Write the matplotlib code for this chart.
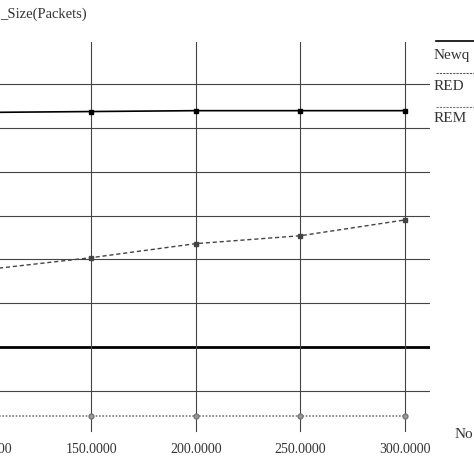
import matplotlib.pyplot as plt

x = [100, 150, 200, 250, 300]
newq = [73.5, 73.7, 73.9, 73.9, 73.9]
red = [37.7, 40.4, 43.6, 45.4, 49.0]
rem = [4.3, 4.3, 4.3, 4.3, 4.3]
grid_y = [10, 30, 40, 50, 60, 70, 80]
xticks = [100, 150, 200, 250, 300]
xtick_labels = ["100.0000", "150.0000", "200.0000", "250.0000", "300.0000"]

plt.rcParams["font.family"] = ["Liberation Serif", "DejaVu Serif"]

fig = plt.figure(figsize=(4.74, 4.74), dpi=100)
ax = fig.add_axes([-13.5 / 474, 39 / 474, 443.5 / 474, 395 / 474])
ax.set_xlim(100, 312)
ax.set_ylim(0, 90)
for s in ax.spines.values():
    s.set_visible(False)

for gy in grid_y:
    ax.axhline(gy, color="#444444", lw=0.8, zorder=1)
ax.axhline(20, color="black", lw=2.0, zorder=1)
for gx in xticks[1:]:
    ax.plot([gx, gx], [1, 89.5], color="#444444", lw=0.8, zorder=1)

ax.plot(x, newq, color="black", lw=1.2, marker="s", ms=3.5, zorder=3)
ax.plot(x, red, color="#444444", lw=1.0, ls=(0, (3, 2)), marker="s", ms=3, zorder=3)
ax.plot(x, rem, color="#777777", lw=1.2, ls=(0, (1, 1)), marker="o", ms=3.5, mfc="#999999", zorder=3)

ax.set_xticks(xticks)
ax.set_xticklabels(xtick_labels, fontsize=10, color="#333333")
ax.tick_params(axis="x", length=0, pad=6)
ax.set_yticks([])

fig.text(0, 1 - 14 / 474, "_Size(Packets)", fontsize=10.5, color="#333333", va="center")
fig.text(434 / 474, 1 - 55 / 474, "Newq", fontsize=11, color="#333333", va="center")
fig.text(434 / 474, 1 - 87 / 474, "RED", fontsize=11, color="#333333", va="center")
fig.text(434 / 474, 1 - 119 / 474, "REM", fontsize=11, color="#333333", va="center")
fig.lines.append(plt.Line2D([436 / 474, 1], [1 - 41 / 474] * 2, color="black", lw=1.2, transform=fig.transFigure))
fig.lines.append(plt.Line2D([436 / 474, 1], [1 - 73 / 474] * 2, color="#555555", lw=0.8, ls=(0, (2, 1)), transform=fig.transFigure))
fig.lines.append(plt.Line2D([436 / 474, 1], [1 - 107 / 474] * 2, color="#777777", lw=0.8, ls=(0, (2, 1)), transform=fig.transFigure))
fig.text(455 / 474, 1 - 434 / 474, "No", fontsize=11, color="#333333", va="center")

fig.savefig("out.png", dpi=100)
